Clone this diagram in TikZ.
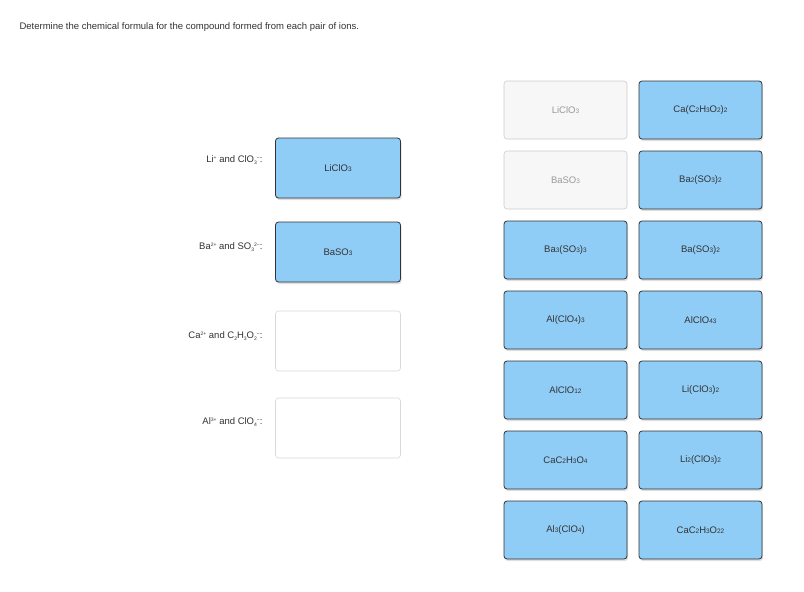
\documentclass[tikz,border=0pt]{standalone}
\usepackage{fontspec}
\setmainfont{Liberation Sans}
\usetikzlibrary{shadows}
\definecolor{txt}{HTML}{333333}
\definecolor{tileblue}{HTML}{8FCDF7}
\definecolor{empt}{HTML}{F7F7F7}
\newcommand{\tsb}[1]{{\fontsize{6.5}{7}\selectfont #1}}
\newcommand{\lsub}[1]{\raisebox{-0.3ex}{\fontsize{5}{6}\selectfont #1}}
\newcommand{\lsup}[1]{\raisebox{0.6ex}{\fontsize{5}{6}\selectfont #1}}
\tikzset{x=1pt,y=-1pt,
 every node/.style={font=\fontsize{9.5}{11}\selectfont, text=txt},
 tile/.style={draw=txt, fill=tileblue, rounded corners=3pt, minimum width=123pt, minimum height=58pt, line width=0.8pt, drop shadow={shadow xshift=1pt,shadow yshift=-2pt,opacity=0.25}},
 used/.style={draw=black!20, fill=empt, rounded corners=3pt, minimum width=123pt, minimum height=58pt, text=black!40, line width=0.6pt},
 slot/.style={draw=black!15, fill=white, rounded corners=3pt, minimum width=125pt, minimum height=60pt, line width=0.6pt},
 lab/.style={anchor=east}}
\begin{document}
\begin{tikzpicture}
\useasboundingbox[fill=white] (0,0) rectangle (804,592);
\node[anchor=west] (title) at (16,27) {Determine the chemical formula for the compound formed from each pair of ions.};
% left labels
\node[lab] (l1) at (266,160) {Li\lsup{+} and ClO\lsub{3}\lsup{−}:};
\node[lab] (l2) at (266,247) {Ba\lsup{2+} and SO\lsub{3}\lsup{2−}:};
\node[lab] (l3) at (266,336) {Ca\lsup{2+} and C\lsub{2}H\lsub{3}O\lsub{2}\lsup{−}:};
\node[lab] (l4) at (266,422) {Al\lsup{3+} and ClO\lsub{4}\lsup{−}:};
% slots
\node[tile, minimum width=125pt, minimum height=60pt] (s1) at (338,168) {LiClO\tsb{3}};
\node[tile, minimum width=125pt, minimum height=60pt] (s2) at (338,252) {BaSO\tsb{3}};
\node[slot] (s3) at (338,341) {};
\node[slot] (s4) at (338,428) {};
% tiles
\node[used] (a1) at (565.5,110) {LiClO\tsb{3}};
\node[tile] (b1) at (700.5,110) {Ca(C\tsb{2}H\tsb{3}O\tsb{2})\tsb{2}};
\node[used] (a2) at (565.5,180) {BaSO\tsb{3}};
\node[tile] (b2) at (700.5,180) {Ba\tsb{2}(SO\tsb{3})\tsb{2}};
\node[tile] (a3) at (565.5,250) {Ba\tsb{3}(SO\tsb{3})\tsb{3}};
\node[tile] (b3) at (700.5,250) {Ba(SO\tsb{3})\tsb{2}};
\node[tile] (a4) at (565.5,320) {Al(ClO\tsb{4})\tsb{3}};
\node[tile] (b4) at (700.5,320) {AlClO\tsb{43}};
\node[tile] (a5) at (565.5,390) {AlClO\tsb{12}};
\node[tile] (b5) at (700.5,390) {Li(ClO\tsb{3})\tsb{2}};
\node[tile] (a6) at (565.5,460) {CaC\tsb{2}H\tsb{3}O\tsb{4}};
\node[tile] (b6) at (700.5,460) {Li\tsb{2}(ClO\tsb{3})\tsb{2}};
\node[tile] (a7) at (565.5,530) {Al\tsb{3}(ClO\tsb{4})};
\node[tile] (b7) at (700.5,530) {CaC\tsb{2}H\tsb{3}O\tsb{22}};
\end{tikzpicture}
\end{document}
